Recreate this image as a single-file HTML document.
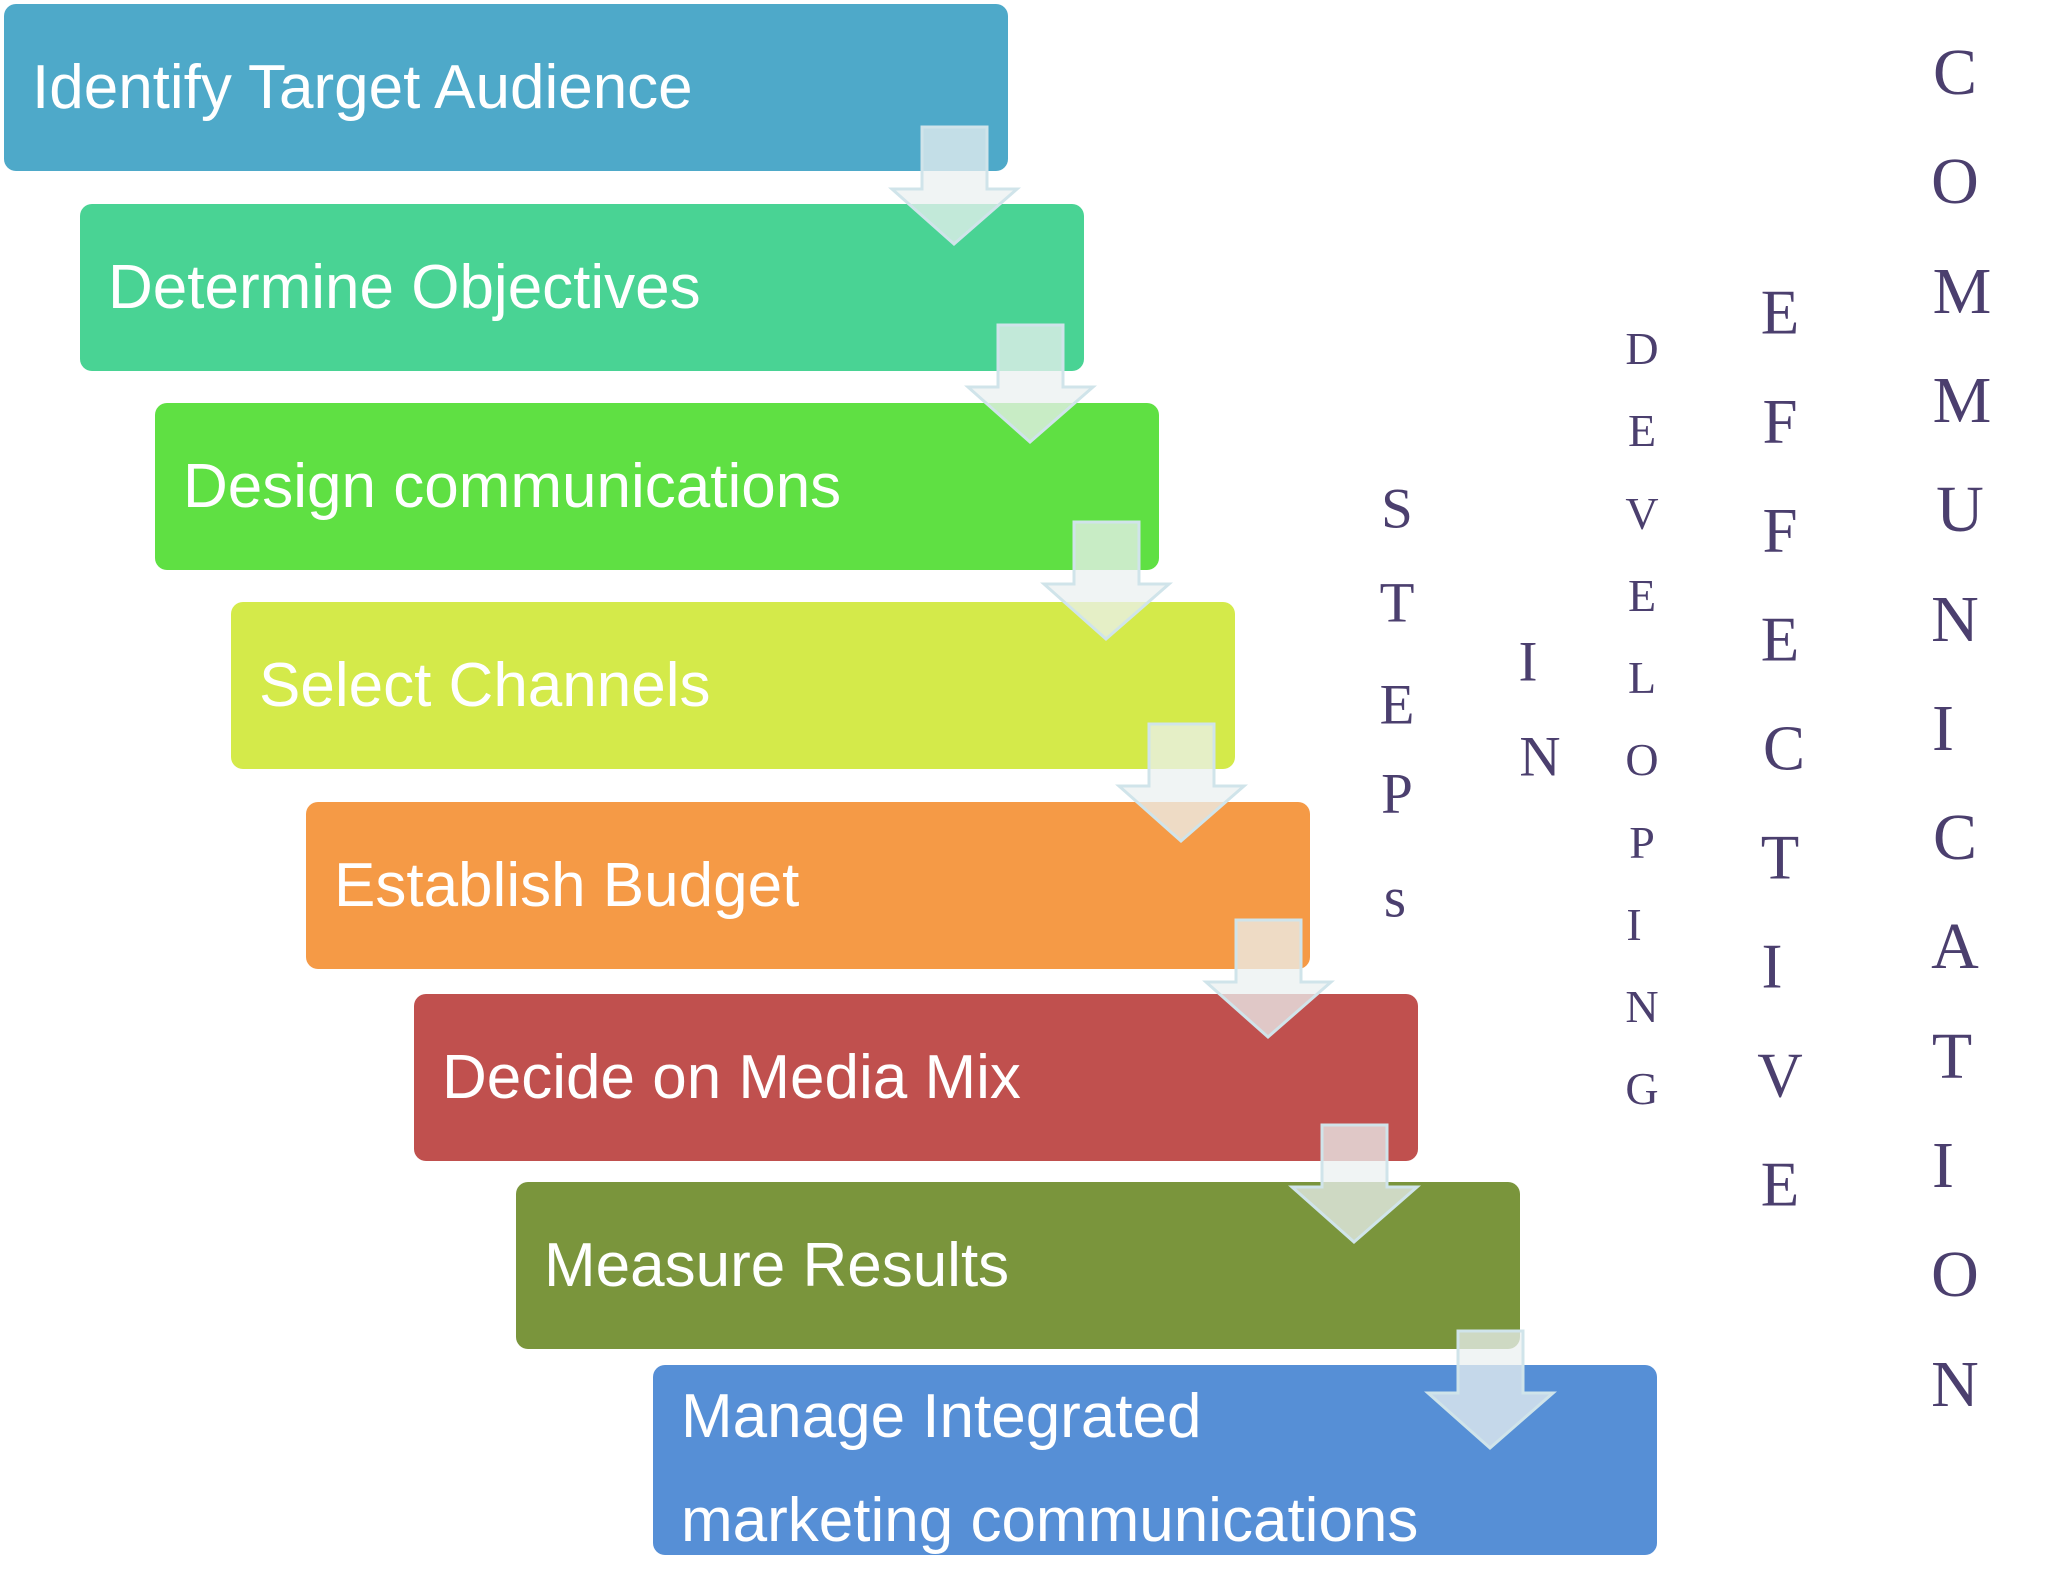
<!DOCTYPE html>
<html><head><meta charset="utf-8"><style>
html,body{margin:0;padding:0}
body{width:2048px;height:1536px;position:relative;overflow:hidden;background:#fff;font-family:"Liberation Sans",sans-serif}
.b{position:absolute;width:1004px;height:167px;border-radius:12px;color:#fff;font-size:62px;box-sizing:border-box;padding-left:28px;line-height:167px;white-space:nowrap}
.l{position:absolute;font-family:"Liberation Serif",serif;color:#4b3f6e;transform:translate(-50%,-50%);line-height:1}
svg{position:absolute;left:0;top:0}
</style></head><body>
<div class="b" style="left:4px;top:4px;background:#4ea9c9">Identify Target Audience</div>
<div class="b" style="left:80px;top:204px;background:#49d394">Determine Objectives</div>
<div class="b" style="left:155px;top:403px;background:#5fe043">Design communications</div>
<div class="b" style="left:231px;top:602px;background:#d4ea4a">Select Channels</div>
<div class="b" style="left:306px;top:802px;background:#f59a46">Establish Budget</div>
<div class="b" style="left:414px;top:994px;background:#c0504e">Decide on Media Mix</div>
<div class="b" style="left:516px;top:1182px;background:#7a953c">Measure Results</div>
<div class="b" style="left:653px;top:1365px;height:190px;background:#568fd6;line-height:104px;padding-top:0">Manage Integrated<br>marketing communications</div>
<svg width="2048" height="1536">
<g fill="rgba(235,240,240,0.75)" stroke="#d0e4ea" stroke-width="3">
<polygon points="922,127 987,127 987,189 1017,189 954,244 892,189 922,189"/>
<polygon points="998,325 1063,325 1063,387 1093,387 1030,442 968,387 998,387"/>
<polygon points="1074,522 1139,522 1139,584 1169,584 1106,639 1044,584 1074,584"/>
<polygon points="1149,724 1214,724 1214,786 1244,786 1181,841 1119,786 1149,786"/>
<polygon points="1236,920 1301,920 1301,982 1331,982 1268,1037 1206,982 1236,982"/>
<polygon points="1322,1125 1387,1125 1387,1187 1417,1187 1354,1242 1292,1187 1322,1187"/>
<polygon points="1458,1331 1523,1331 1523,1393 1553,1393 1490,1448 1428,1393 1458,1393"/>
</g></svg>
<div class="l" style="left:1397px;top:509px;font-size:57px">S</div>
<div class="l" style="left:1397px;top:603px;font-size:57px">T</div>
<div class="l" style="left:1397px;top:705px;font-size:57px">E</div>
<div class="l" style="left:1397px;top:794px;font-size:57px">P</div>
<div class="l" style="left:1395px;top:898px;font-size:57px">s</div>
<div class="l" style="left:1528px;top:662px;font-size:57px">I</div>
<div class="l" style="left:1540px;top:757px;font-size:57px">N</div>
<div class="l" style="left:1642px;top:349px;font-size:46px">D</div>
<div class="l" style="left:1642px;top:431px;font-size:46px">E</div>
<div class="l" style="left:1642px;top:514px;font-size:46px">V</div>
<div class="l" style="left:1642px;top:596px;font-size:46px">E</div>
<div class="l" style="left:1642px;top:678px;font-size:46px">L</div>
<div class="l" style="left:1642px;top:760px;font-size:46px">O</div>
<div class="l" style="left:1642px;top:843px;font-size:46px">P</div>
<div class="l" style="left:1634px;top:925px;font-size:46px">I</div>
<div class="l" style="left:1642px;top:1007px;font-size:46px">N</div>
<div class="l" style="left:1642px;top:1089px;font-size:46px">G</div>
<div class="l" style="left:1780px;top:313px;font-size:63px">E</div>
<div class="l" style="left:1780px;top:422px;font-size:63px">F</div>
<div class="l" style="left:1780px;top:531px;font-size:63px">F</div>
<div class="l" style="left:1780px;top:640px;font-size:63px">E</div>
<div class="l" style="left:1784px;top:749px;font-size:63px">C</div>
<div class="l" style="left:1780px;top:858px;font-size:63px">T</div>
<div class="l" style="left:1772px;top:967px;font-size:63px">I</div>
<div class="l" style="left:1780px;top:1076px;font-size:63px">V</div>
<div class="l" style="left:1780px;top:1185px;font-size:63px">E</div>
<div class="l" style="left:1955px;top:73px;font-size:66px">C</div>
<div class="l" style="left:1955px;top:182px;font-size:66px">O</div>
<div class="l" style="left:1962px;top:292px;font-size:66px">M</div>
<div class="l" style="left:1962px;top:401px;font-size:66px">M</div>
<div class="l" style="left:1960px;top:510px;font-size:66px">U</div>
<div class="l" style="left:1955px;top:620px;font-size:66px">N</div>
<div class="l" style="left:1943px;top:729px;font-size:66px">I</div>
<div class="l" style="left:1955px;top:838px;font-size:66px">C</div>
<div class="l" style="left:1955px;top:947px;font-size:66px">A</div>
<div class="l" style="left:1952px;top:1057px;font-size:66px">T</div>
<div class="l" style="left:1943px;top:1166px;font-size:66px">I</div>
<div class="l" style="left:1955px;top:1275px;font-size:66px">O</div>
<div class="l" style="left:1955px;top:1385px;font-size:66px">N</div>
</body></html>
